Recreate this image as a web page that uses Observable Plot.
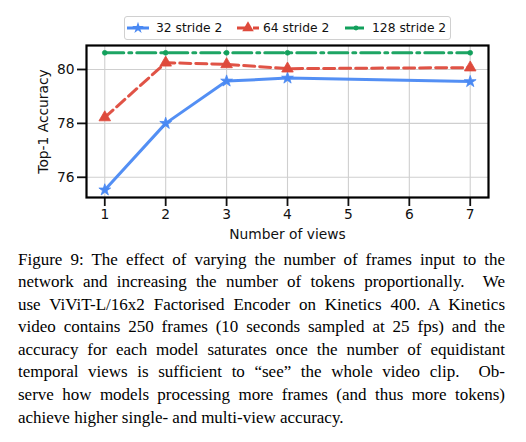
<!DOCTYPE html>
<html>
<head>
<meta charset="utf-8">
<script src="https://cdn.jsdelivr.net/npm/d3@7"></script>
<script src="https://cdn.jsdelivr.net/npm/@observablehq/plot@0.6"></script>
<style>
  html, body { margin: 0; padding: 0; background: #fff; }
  body { width: 526px; height: 442px; overflow: hidden; position: relative; font-family: "DejaVu Sans", sans-serif; }
  #legend { position: relative; height: 42px; }
  #legendbox { position: absolute; left: 124px; top: 16px; width: 325px; height: 22px; border: 1px solid #d0d0d0; border-radius: 3px; background: #fff; }
  #chart svg { display: block; }
  #caption { margin: 6.5px 0 0 18px; width: 487px; font-family: "Liberation Serif", "Times New Roman", serif; font-size: 17px; line-height: 22.6px; color: #000; }
  #caption div { text-align: justify; text-align-last: justify; white-space: nowrap; }
  #caption div.last { text-align-last: left; }
</style>
</head>
<body>
<div id="legend"><div id="legendbox"></div></div>
<div id="chart"></div>
<div id="caption"></div>
<script>
// ---- data ----
const views = [1, 2, 3, 4, 7];
const acc32 = [75.53, 78.0, 79.57, 79.68, 79.55];
const acc64 = [78.22, 80.25, 80.19, 80.03, 80.07];
const acc128 = [80.62, 80.62, 80.62, 80.62, 80.62];
const seriesNames = ["32 stride 2", "64 stride 2", "128 stride 2"];
const seriesColors = ["#4a89f3", "#de4a3c", "#12a05c"];
const xTicks = [1, 2, 3, 4, 5, 6, 7];
const yTicks = [76, 78, 80];
const captionLines = [
  "Figure 9: The effect of varying the number of frames input to the",
  "network and increasing the number of tokens proportionally.\u00a0 We",
  "use ViViT-L/16x2 Factorised Encoder on Kinetics 400. A Kinetics",
  "video contains 250 frames (10 seconds sampled at 25 fps) and the",
  "accuracy for each model saturates once the number of equidistant",
  "temporal views is sufficient to \u201csee\u201d the whole video clip.\u00a0 Ob-",
  "serve how models processing more frames (and thus more tokens)",
  "achieve higher single- and multi-view accuracy."
];

const rows = [];
[acc32, acc64, acc128].forEach((arr, s) => {
  views.forEach((v, i) => rows.push({series: seriesNames[s], views: v, acc: arr[i]}));
});
const bySeries = name => rows.filter(d => d.series === name);

const dashes = [null, "11,5", "19,5,3,5"];
const symbols = ["star", "triangle", "circle"];
const radii = [3.7, 4.3, 2.4];

const marks = [
  Plot.gridX(xTicks, {stroke: "#cfcfcf", strokeOpacity: 1, strokeWidth: 1.1}),
  Plot.gridY(yTicks, {stroke: "#cfcfcf", strokeOpacity: 1, strokeWidth: 1.1})
];
seriesNames.forEach((name, s) => {
  marks.push(Plot.line(bySeries(name), {x: "views", y: "acc", stroke: seriesColors[s], strokeWidth: 3, strokeDasharray: dashes[s], strokeOpacity: 0.95}));
});
seriesNames.forEach((name, s) => {
  marks.push(Plot.dot(bySeries(name), {x: "views", y: "acc", symbol: () => symbols[s], r: radii[s], fill: seriesColors[s], stroke: seriesColors[s], strokeWidth: 0.8}));
});
marks.push(
  Plot.axisX({ticks: xTicks, tickSize: 9, tickPadding: 3, strokeWidth: 1.8, label: "Number of views", labelAnchor: "center", labelOffset: 41, labelArrow: "none", tickFormat: d => String(d)}),
  Plot.axisY({ticks: yTicks, tickSize: 9, tickPadding: 3, strokeWidth: 1.8, label: "Top-1 Accuracy", labelAnchor: "center", labelOffset: 48, labelArrow: "none", tickFormat: d => String(d)}),
  Plot.frame({stroke: "#000", strokeWidth: 2.2})
);

const chart = Plot.plot({
  width: 526,
  height: 200,
  marginLeft: 86,
  marginRight: 38,
  marginTop: 3,
  marginBottom: 45,
  x: {domain: [0.7, 7.3]},
  y: {domain: [75.25, 80.89]},
  symbol: {type: "identity"},
  style: {fontFamily: "'DejaVu Sans', sans-serif", fontSize: "13.8px", color: "#111", background: "white"},
  marks
});
document.getElementById("chart").appendChild(chart);

// ---- legend ----
const lb = d3.select("#legendbox").append("svg").attr("width", 325).attr("height", 22);
const itemX = [2, 112, 220];
const textX = [31, 138, 247];
seriesNames.forEach((name, s) => {
  const g = lb.append("g");
  g.append("line").attr("x1", itemX[s]).attr("x2", itemX[s] + 22).attr("y1", 11).attr("y2", 11)
    .attr("stroke", seriesColors[s]).attr("stroke-width", 3)
    .attr("stroke-dasharray", s === 1 ? "11,5" : s === 2 ? "19,5,3,5" : null);
  const sym = s === 0 ? d3.symbolStar : s === 1 ? d3.symbolTriangle : d3.symbolCircle;
  g.append("path").attr("d", d3.symbol(sym, radii[s] * radii[s] * Math.PI)())
    .attr("transform", `translate(${itemX[s] + 11},11)`).attr("fill", seriesColors[s]);
  g.append("text").attr("x", textX[s]).attr("y", 15.3).text(name)
    .attr("font-family", "DejaVu Sans").attr("font-size", "12.3px").attr("fill", "#111");
});

// ---- caption ----
const cap = document.getElementById("caption");
captionLines.forEach((line, i) => {
  const div = document.createElement("div");
  div.textContent = line;
  if (i === captionLines.length - 1) div.className = "last";
  cap.appendChild(div);
});
</script>
</body>
</html>
